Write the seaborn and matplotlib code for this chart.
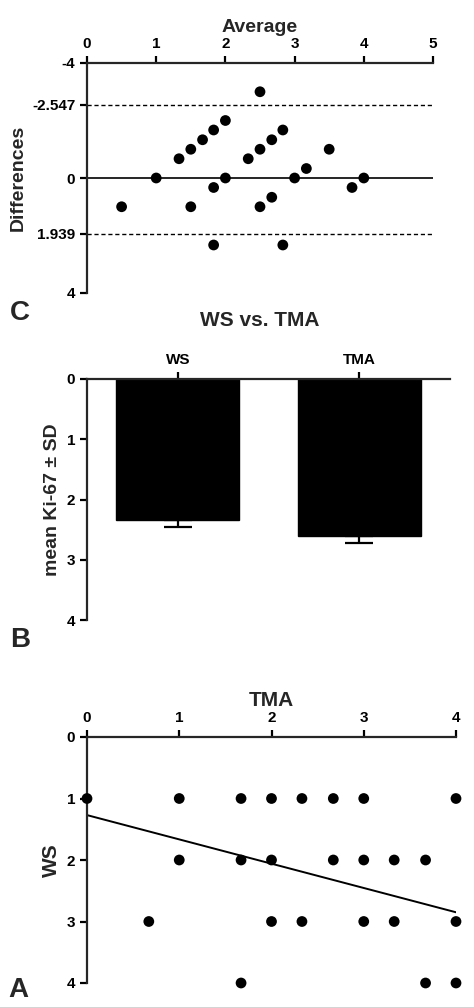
import matplotlib
matplotlib.use('Agg')
import matplotlib.pyplot as plt
import seaborn as sns
import numpy as np
import pandas as pd

# Panel A: WS vs TMA scores
tma_scores = [0, 1, 1.67, 2, 2.33, 2.67, 3, 4,
              1, 1.67, 2, 2.67, 3, 3.33, 3.67,
              0.67, 2, 2.33, 3, 3.33, 4,
              1.67, 3.67, 4]
ws_scores = [1] * 8 + [2] * 7 + [3] * 6 + [4] * 3
fit_intercept = 1.27
fit_slope = 0.395

# Panel B: mean Ki-67 +- SD
groups = ["WS", "TMA"]
means = [2.34, 2.61]
sds = [0.12, 0.12]

# Panel C: Bland-Altman
ba_avg = [2.5, 2.0, 1.83, 2.83, 1.67, 2.67, 1.5, 2.5, 3.5, 1.33, 2.33, 3.17,
          1, 2, 3, 4, 1.83, 3.83, 2.67, 0.5, 1.5, 2.5, 1.83, 2.83]
ba_diff = [-3.0, -2.0, -1.67, -1.67, -1.33, -1.33, -1.0, -1.0, -1.0, -0.67, -0.67, -0.33,
           0, 0, 0, 0, 0.33, 0.33, 0.67, 1.0, 1.0, 1.0, 2.33, 2.33]
loa_upper = -2.547
loa_lower = 1.939

sns.set_theme(style="ticks")
plt.rcParams['font.family'] = ['Liberation Sans', 'DejaVu Sans']
plt.rcParams['font.weight'] = 'bold'
plt.rcParams['axes.linewidth'] = 1.6
plt.rcParams['xtick.major.width'] = 1.6
plt.rcParams['ytick.major.width'] = 1.6
plt.rcParams['xtick.color'] = 'black'
plt.rcParams['ytick.color'] = 'black'

W, H = 474, 1007
fig = plt.figure(figsize=(W / 100, H / 100), dpi=100)

def add_ax(l, t, r, b):
    return fig.add_axes([l / W, 1 - b / H, (r - l) / W, (b - t) / H])

def style(ax):
    # vertically mirrored layout: x axis on top, y grows downward
    ax.spines['bottom'].set_visible(False)
    ax.spines['right'].set_visible(False)
    ax.xaxis.set_ticks_position('top')
    ax.xaxis.set_label_position('top')
    ax.tick_params(labelsize=11, length=5, colors='black')
    ax.invert_yaxis()

# C (top)
axc = add_ax(87, 63, 433, 293)
sns.scatterplot(x=ba_avg, y=ba_diff, ax=axc, color='black', s=60, edgecolor='none')
axc.axhline(0, color='black', lw=1.2)
axc.axhline(loa_upper, color='black', lw=1, ls='--', dashes=(3, 2))
axc.axhline(loa_lower, color='black', lw=1, ls='--', dashes=(3, 2))
axc.set_xlim(0, 5)
axc.set_ylim(-4, 4)
style(axc)
axc.set_xticks([0, 1, 2, 3, 4, 5])
axc.set_yticks([-4, loa_upper, 0, loa_lower, 4])
axc.set_yticklabels(["-4", "-2.547", "0", "1.939", "4"])
axc.set_xlabel("Average", fontsize=14, fontweight='bold')
axc.set_ylabel("Differences", fontsize=14, fontweight='bold')
axc.text(0.5, -0.12, "WS vs. TMA", transform=axc.transAxes, ha='center', va='center',
         fontsize=15, fontweight='bold')
fig.text(10 / W, 1 - 313 / H, "C", fontsize=20, fontweight='bold', va='center')

# B (middle)
axb = add_ax(87, 379, 450, 620)
df = pd.DataFrame({"group": groups, "mean": means})
sns.barplot(data=df, x="group", y="mean", ax=axb, color='black', width=0.68,
            saturation=1, edgecolor='black')
axb.errorbar([0, 1], means, yerr=[[0, 0], sds], fmt='none', ecolor='black',
             elinewidth=1.6, capsize=10, capthick=1.6)
axb.set_xlim(-0.5, 1.5)
axb.set_ylim(0, 4)
style(axb)
axb.set_yticks([0, 1, 2, 3, 4])
axb.set_xlabel("")
axb.set_ylabel("mean Ki-67 ± SD", fontsize=14, fontweight='bold')
fig.text(10 / W, 1 - 640 / H, "B", fontsize=20, fontweight='bold', va='center')

# A (bottom)
axa = add_ax(87, 737, 456, 983)
sns.scatterplot(x=tma_scores, y=ws_scores, ax=axa, color='black', s=60, edgecolor='none',
                clip_on=False, zorder=3)
xs = np.array([0, 4])
axa.plot(xs, fit_intercept + fit_slope * xs, color='black', lw=1.4)
axa.set_xlim(0, 4)
axa.set_ylim(0, 4)
style(axa)
axa.set_xticks([0, 1, 2, 3, 4])
axa.set_yticks([0, 1, 2, 3, 4])
axa.set_xlabel("TMA", fontsize=15, fontweight='bold')
axa.set_ylabel("WS", fontsize=15, fontweight='bold')
fig.text(8 / W, 1 - 990 / H, "A", fontsize=20, fontweight='bold', va='center')

for ax in (axa, axb, axc):
    for lab in ax.get_xticklabels() + ax.get_yticklabels():
        lab.set_fontweight('bold')

fig.savefig("out.png", dpi=100, facecolor='white')
